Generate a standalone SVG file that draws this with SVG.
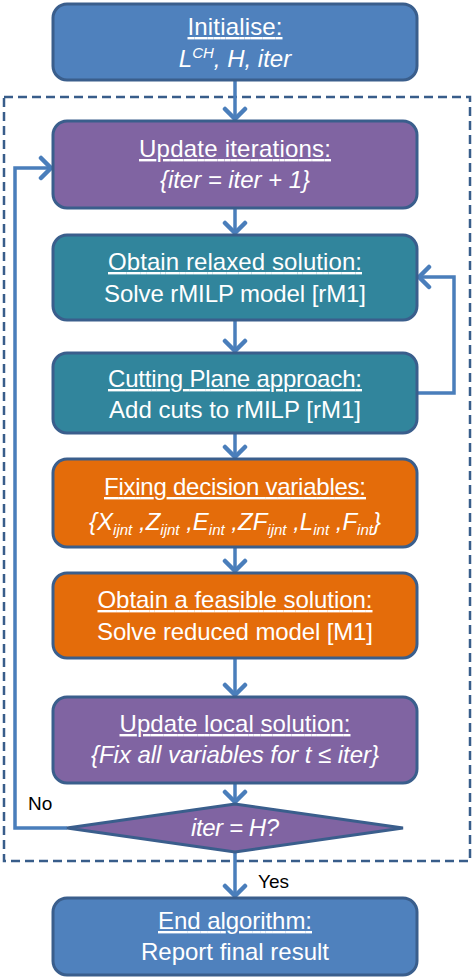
<svg xmlns="http://www.w3.org/2000/svg" width="474" height="979" viewBox="0 0 474 979">
<defs>
<style>
.box{stroke:#3A5E8C;stroke-width:3}
.blue{fill:#4F81BD}
.purple{fill:#8064A2}
.teal{fill:#31859C}
.orange{fill:#E46C0A}
.t{font-family:"Liberation Sans",Arial,sans-serif;font-size:24px;fill:#FFFFFF;text-anchor:middle}
.u{text-decoration:underline}
.i{font-style:italic}
.lbl{font-family:"Liberation Sans",Arial,sans-serif;font-size:19px;fill:#000000}
.c{fill:none;stroke:#4A7EBB;stroke-width:3.5}
.dash{fill:none;stroke:#385D8A;stroke-width:2.5;stroke-dasharray:9 5}
</style>
<marker id="ah" viewBox="-13 -13 26 26" markerWidth="26" markerHeight="26" refX="0" refY="0" orient="auto" markerUnits="userSpaceOnUse">
<path d="M-10,-10 L0,0 L-10,10" fill="none" stroke="#4A7EBB" stroke-width="4.5" stroke-linecap="round" stroke-linejoin="round"/>
</marker>
</defs>
<rect class="dash" x="4" y="97" width="466" height="764"/>
<g id="connectors">
<line class="c" x1="235" y1="80" x2="235" y2="119" marker-end="url(#ah)"/>
<line class="c" x1="235" y1="208" x2="235" y2="233" marker-end="url(#ah)"/>
<line class="c" x1="235" y1="320" x2="235" y2="351" marker-end="url(#ah)"/>
<line class="c" x1="235" y1="433" x2="235" y2="457" marker-end="url(#ah)"/>
<line class="c" x1="235" y1="547" x2="235" y2="571" marker-end="url(#ah)"/>
<line class="c" x1="235" y1="658" x2="235" y2="695" marker-end="url(#ah)"/>
<line class="c" x1="235" y1="783" x2="235" y2="802" marker-end="url(#ah)"/>
<line class="c" x1="235" y1="852" x2="235" y2="896" marker-end="url(#ah)"/>
<polyline class="c" points="417,393 454,393 454,277 419,277" marker-end="url(#ah)"/>
<polyline class="c" points="67,828 15,828 15,168 51,168" marker-end="url(#ah)"/>
<text class="lbl" x="28" y="810">No</text>
<text class="lbl" x="258" y="888">Yes</text>
</g>
<g id="initialise">
<rect class="box blue" x="53" y="4" width="364" height="76" rx="14"/>
<text class="t u" x="235" y="35" textLength="95" lengthAdjust="spacing">Initialise:</text>
<text class="t i" x="235" y="67">L<tspan font-size="15" dy="-9">CH</tspan><tspan dy="9">, H, iter</tspan></text>
</g>
<g id="update-iterations">
<rect class="box purple" x="53" y="121" width="364" height="87" rx="14"/>
<text class="t u" x="235" y="157" textLength="192" lengthAdjust="spacing">Update iterations:</text>
<text class="t i" x="235" y="188" textLength="150" lengthAdjust="spacing">{iter = iter + 1}</text>
</g>
<g id="obtain-relaxed">
<rect class="box teal" x="53" y="235" width="364" height="85" rx="14"/>
<text class="t u" x="235" y="270" textLength="254" lengthAdjust="spacing">Obtain relaxed solution:</text>
<text class="t" x="235" y="302" textLength="262" lengthAdjust="spacing">Solve rMILP model [rM1]</text>
</g>
<g id="cutting-plane">
<rect class="box teal" x="53" y="353" width="364" height="80" rx="14"/>
<text class="t u" x="235" y="387" textLength="254" lengthAdjust="spacing">Cutting Plane approach:</text>
<text class="t" x="235" y="418" textLength="252" lengthAdjust="spacing">Add cuts to rMILP [rM1]</text>
</g>
<g id="fixing">
<rect class="box orange" x="53" y="459" width="364" height="88" rx="14"/>
<text class="t u" x="235" y="495" textLength="262" lengthAdjust="spacing">Fixing decision variables:</text>
<text class="t i" x="235" y="530" font-size="23">{X<tspan font-size="15" dy="5">ijnt</tspan><tspan dy="-5"> ,Z</tspan><tspan font-size="15" dy="5">ijnt</tspan><tspan dy="-5"> ,E</tspan><tspan font-size="15" dy="5">int</tspan><tspan dy="-5"> ,ZF</tspan><tspan font-size="15" dy="5">ijnt</tspan><tspan dy="-5"> ,L</tspan><tspan font-size="15" dy="5">int</tspan><tspan dy="-5"> ,F</tspan><tspan font-size="15" dy="5">int</tspan><tspan dy="-5">}</tspan></text>
</g>
<g id="obtain-feasible">
<rect class="box orange" x="53" y="573" width="364" height="85" rx="14"/>
<text class="t u" x="235" y="608" textLength="275" lengthAdjust="spacing">Obtain a feasible solution:</text>
<text class="t" x="235" y="640" textLength="276" lengthAdjust="spacing">Solve reduced model [M1]</text>
</g>
<g id="update-local">
<rect class="box purple" x="53" y="697" width="364" height="86" rx="14"/>
<text class="t u" x="235" y="732" textLength="231" lengthAdjust="spacing">Update local solution:</text>
<text class="t i" x="235" y="763" textLength="288" lengthAdjust="spacing">{Fix all variables for t ≤ iter}</text>
</g>
<g id="decision">
<polygon class="box purple" points="67,828 235,804 403,828 235,852"/>
<text class="t i" x="235" y="836" textLength="88" lengthAdjust="spacing">iter = H?</text>
</g>
<g id="end">
<rect class="box blue" x="53" y="898" width="364" height="77" rx="14"/>
<text class="t u" x="235" y="929" textLength="154" lengthAdjust="spacing">End algorithm:</text>
<text class="t" x="235" y="960" textLength="188" lengthAdjust="spacing">Report final result</text>
</g>
</svg>
